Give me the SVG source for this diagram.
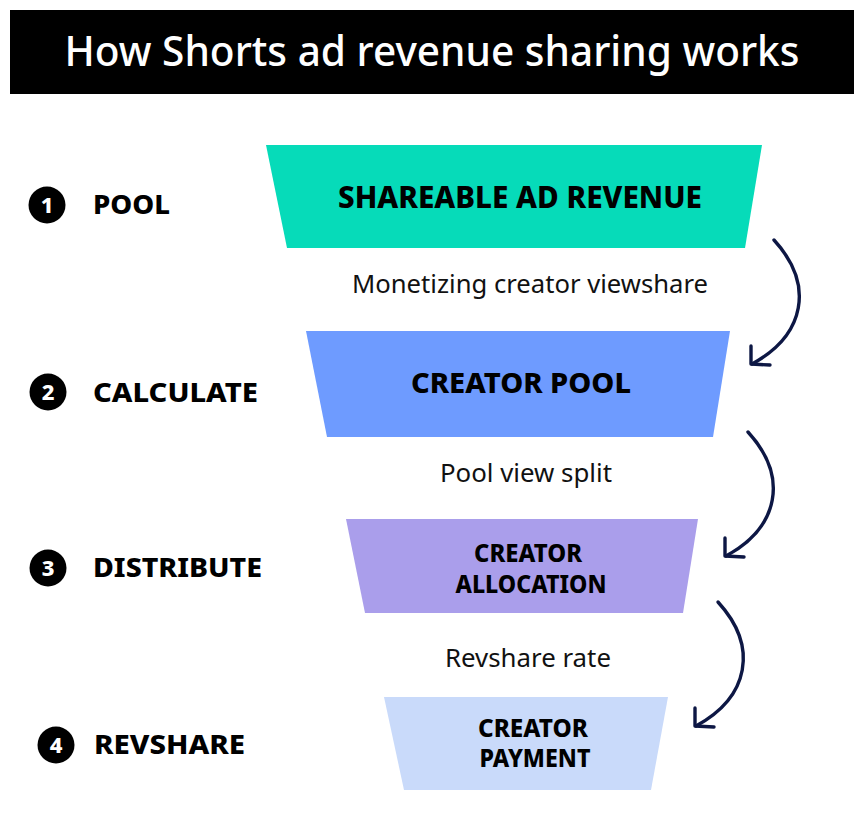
<svg xmlns="http://www.w3.org/2000/svg" width="864" height="824" viewBox="0 0 864 824">
<style>
.title{font-family:"Noto Sans","Open Sans",sans-serif;font-size:42px;font-weight:500;fill:#fff;text-anchor:middle}
.box{font-family:"Noto Sans","Open Sans",sans-serif;font-weight:800;fill:#000;text-anchor:middle}
.step{font-family:"Noto Sans","Open Sans",sans-serif;font-size:27px;font-weight:800;fill:#000}
.num{font-family:"Noto Sans","Open Sans",sans-serif;font-size:22px;font-weight:800;fill:#fff;text-anchor:middle}
.lbl{font-family:"Noto Sans","Open Sans",sans-serif;font-size:25px;font-weight:400;fill:#111;text-anchor:middle}
.arr{fill:none;stroke:#0d1744;stroke-width:3.4;stroke-linecap:round;stroke-linejoin:round}
</style>
<defs>
<g id="arrow">
<path class="arr" d="M774,240 C815,285 805,335 752,364"/>
<path class="arr" d="M751,346 L751,364 L770,365"/>
</g>
</defs>
<rect width="864" height="824" fill="#fff"/>
<g id="title">
<rect x="10" y="10" width="844" height="84" fill="#000"/>
<text class="title" x="432" y="66" textLength="735" lengthAdjust="spacingAndGlyphs">How Shorts ad revenue sharing works</text>
</g>
<g id="step1">
<circle cx="47" cy="205" r="18.5" fill="#000"/>
<text class="num" x="47" y="213">1</text>
<text class="step" x="93" y="214" textLength="77" lengthAdjust="spacingAndGlyphs">POOL</text>
</g>
<g id="step2">
<circle cx="48" cy="392" r="18.5" fill="#000"/>
<text class="num" x="48" y="400">2</text>
<text class="step" x="93" y="402" textLength="165" lengthAdjust="spacingAndGlyphs">CALCULATE</text>
</g>
<g id="step3">
<circle cx="48" cy="568" r="18.5" fill="#000"/>
<text class="num" x="48" y="576">3</text>
<text class="step" x="93" y="577" textLength="169" lengthAdjust="spacingAndGlyphs">DISTRIBUTE</text>
</g>
<g id="step4">
<circle cx="56" cy="745" r="18.5" fill="#000"/>
<text class="num" x="56" y="753">4</text>
<text class="step" x="94" y="754" textLength="151" lengthAdjust="spacingAndGlyphs">REVSHARE</text>
</g>
<g id="shareable">
<polygon points="266,145 762,145 745,248 287,248" fill="#06dbb9"/>
<text class="box" x="520" y="208" font-size="30" textLength="364" lengthAdjust="spacingAndGlyphs">SHAREABLE AD REVENUE</text>
</g>
<g id="creatorpool">
<polygon points="306,331 730,331 713,437 327,437" fill="#6e9bff"/>
<text class="box" x="521" y="393" font-size="29" textLength="220" lengthAdjust="spacingAndGlyphs">CREATOR POOL</text>
</g>
<g id="allocation">
<polygon points="346,519 698,519 683,613 365,613" fill="#aa9eeb"/>
<text class="box" x="528" y="562" font-size="24" textLength="108" lengthAdjust="spacingAndGlyphs">CREATOR</text>
<text class="box" x="531" y="593" font-size="24" textLength="151" lengthAdjust="spacingAndGlyphs">ALLOCATION</text>
</g>
<g id="payment">
<polygon points="384,697 668,697 651,790 404,790" fill="#c9dafa"/>
<text class="box" x="533" y="737" font-size="24" textLength="110" lengthAdjust="spacingAndGlyphs">CREATOR</text>
<text class="box" x="535" y="767" font-size="24" textLength="111" lengthAdjust="spacingAndGlyphs">PAYMENT</text>
</g>
<g id="connectors">
<use href="#arrow"/>
<use href="#arrow" transform="translate(-26,192)"/>
<use href="#arrow" transform="translate(-56,362)"/>
<text class="lbl" x="530" y="293" textLength="356" lengthAdjust="spacingAndGlyphs">Monetizing creator viewshare</text>
<text class="lbl" x="526" y="482" textLength="172" lengthAdjust="spacingAndGlyphs">Pool view split</text>
<text class="lbl" x="528" y="667" textLength="166" lengthAdjust="spacingAndGlyphs">Revshare rate</text>
</g>
</svg>
